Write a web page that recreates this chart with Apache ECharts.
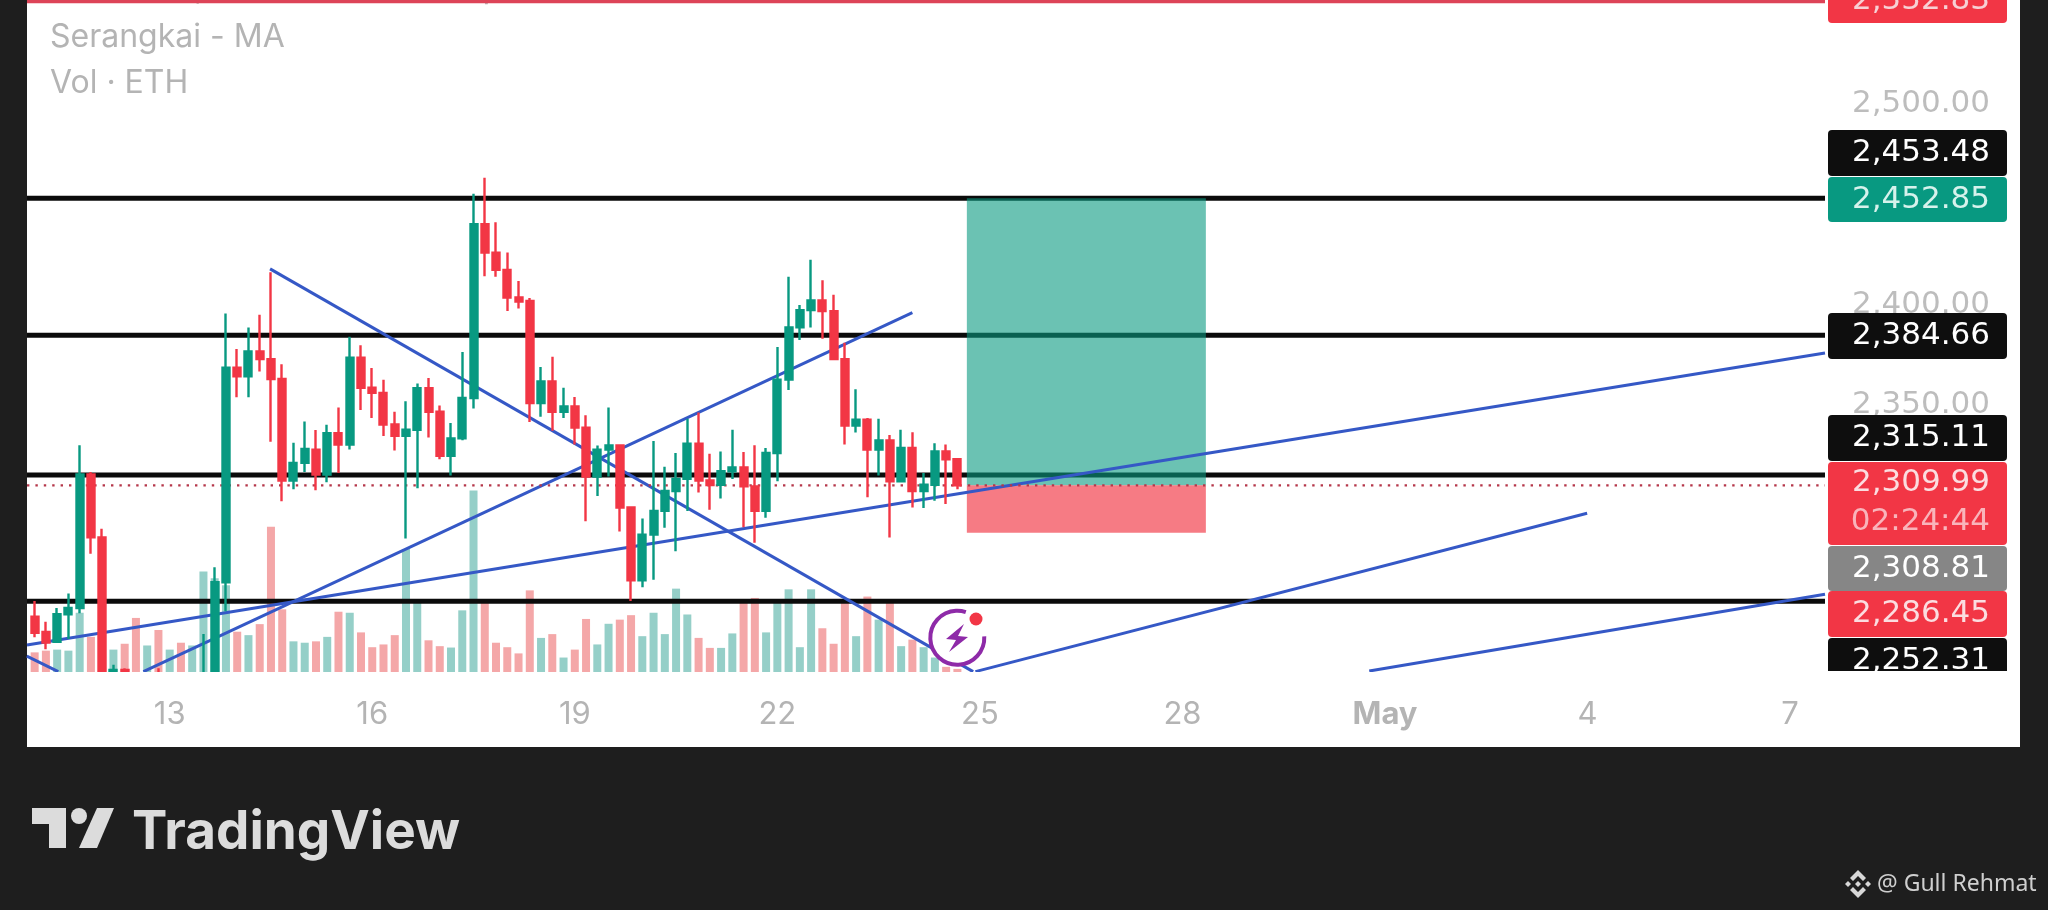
<!DOCTYPE html>
<html>
<head>
<meta charset="utf-8">
<style>html,body{margin:0;padding:0;background:#1e1e1e}#c{width:2048px;height:910px}</style>
<script src="https://cdn.jsdelivr.net/npm/echarts@6/dist/echarts.min.js"></script>
</head>
<body>
<div id="c"></div>
<script>
// ---- values ----
const opens  = [2244.7,2237.0,2232.2,2245.9,2249.0,2315.4,2284.1,2213,2218.1,2214,2210,2214,2210,2213,2211,2211,2213,2261.8,2368.6,2364.3,2376.6,2372.8,2362.9,2312.4,2321.2,2327.8,2315.4,2336.0,2330.3,2373.5,2358.6,2356.0,2340.3,2334.6,2337.7,2358.3,2346.6,2324.7,2333.4,2353.5,2440.0,2425.8,2417.2,2403.5,2401.8,2350.9,2361.7,2346.6,2349.2,2338.7,2314.4,2327.8,2329.8,2299.0,2262.7,2285.5,2297.3,2307.2,2313.2,2330.7,2312.4,2310.3,2317.0,2318.9,2309.5,2297.3,2326.1,2362.6,2388.6,2397.2,2402.0,2396.7,2372.8,2339.8,2342.7,2327.8,2332.4,2312.0,2328.6,2307.2,2310.3,2326.9,2323.0];
const closes = [2236.6,2231.8,2245.9,2249.0,2315.4,2284.1,2211,2218.1,2213,2210,2213,2210,2213,2211,2214,2216,2261.8,2368.6,2364.3,2376.6,2372.8,2362.9,2312.4,2321.2,2328.1,2315.4,2336.0,2330.3,2373.5,2358.6,2356.0,2340.3,2334.6,2337.7,2358.3,2346.6,2324.7,2333.4,2353.5,2440.0,2425.8,2417.2,2403.5,2401.4,2350.9,2361.7,2346.6,2349.2,2338.7,2314.4,2327.8,2329.8,2299.0,2262.7,2285.5,2297.3,2307.2,2313.2,2330.7,2312.4,2310.1,2317.0,2318.9,2309.5,2297.3,2326.1,2362.6,2388.6,2397.2,2402.0,2396.7,2372.8,2339.8,2342.7,2327.8,2332.4,2312.0,2328.6,2307.2,2310.3,2326.9,2323.0,2310.0];
const lows   = [2234.4,2228.4,2231.8,2233.5,2246.4,2276.0,2209,2210,2210,2208,2208,2208,2208,2208,2208,2208,2209,2247.3,2353.8,2353.8,2366.7,2331.7,2302.1,2308.1,2316.6,2307.6,2311.5,2316.1,2327.8,2347.5,2343.5,2334.6,2327.4,2283.6,2308.6,2333.8,2323.0,2314.9,2332.4,2348.3,2414.0,2413.8,2396.8,2398.0,2341.5,2344.1,2337.2,2343.5,2330.3,2292.2,2304.7,2314.4,2287.0,2252.4,2259.3,2263.0,2288.9,2277.2,2297.3,2306.4,2297.8,2303.4,2313.2,2289.2,2281.5,2293.9,2312.0,2357.4,2382.3,2388.6,2382.9,2372.8,2330.3,2336.3,2304.1,2314.9,2284.1,2312.0,2299.0,2298.7,2302.4,2300.7,2308.1];
const highs  = [2252.4,2242.1,2249.0,2256.2,2330.0,2316.6,2288.4,2220.7,2219.0,2215,2214,2219.0,2215,2214,2215,2236.1,2269.2,2395.5,2377.8,2388.6,2394.9,2416.0,2370.3,2331.2,2341.8,2337.5,2340.1,2348.7,2384.0,2379.7,2368.4,2362.6,2346.6,2351.8,2360.7,2363.4,2349.7,2341.0,2376.3,2455.1,2463.1,2440.9,2425.9,2411.7,2403.2,2368.9,2374.0,2358.6,2354.0,2344.9,2329.8,2348.7,2329.8,2299.5,2293.5,2332.1,2319.2,2326.1,2343.2,2346.3,2325.7,2326.9,2337.7,2326.6,2330.0,2328.6,2378.8,2413.8,2399.7,2422.3,2412.1,2404.9,2380.9,2357.8,2343.5,2343.2,2335.0,2337.7,2336.4,2316.1,2330.9,2330.3,2323.2];
const volumes = [57,62,65,62,172,102,112,65,82,157,77,122,65,85,77,292,272,252,117,107,139,422,182,89,85,89,102,175,172,115,72,80,107,357,202,92,75,71,179,527,202,85,72,54,237,99,110,42,65,154,80,140,152,165,104,172,110,242,167,99,70,70,112,212,215,115,212,240,72,240,127,82,212,104,219,152,202,75,94,72,42,15,9];

const priceTicks = [2500, 2400, 2350];
const timeTickIndex = [12, 30, 48, 66, 84, 102, 120, 138, 156];
const timeTickLabels = ['13', '16', '19', '22', '25', '28', 'May', '4', '7'];

const levels = [2452.85, 2384.66, 2315.11, 2252.31];
const lastPrice = 2309.99;
const topPrice = 2550.8;

const trendLines = [
  [[20.92, 2417.7], [83.4, 2217.3]],
  [[9.66, 2217.3], [78.0, 2396.0]],
  [[-0.68, 2230.6], [159.1, 2375.9]],
  [[83.6, 2217.3], [137.96, 2296.1]],
  [[118.6, 2217.6], [159.1, 2255.8]],
  [[-0.7, 2225.0], [2.1, 2217.3]]
];
const position = {x0: 82.84, x1: 104.08, target: 2452.85, entry: 2309.99, stop: 2286.45};

const priceTags = [
  {text: '2,552.83', fill: '#f23645', top: -22, h: 45, color: '#f7d0d4'},
  {text: '2,453.48', fill: '#0e0e0e', top: 130, h: 46, color: '#ffffff'},
  {text: '2,452.85', fill: '#089981', top: 177, h: 45, color: '#d6f2ec'},
  {text: '2,384.66', fill: '#0e0e0e', top: 313, h: 46, color: '#ffffff'},
  {text: '2,315.11', fill: '#0e0e0e', top: 415, h: 46, color: '#ffffff'},
  {text: '2,309.99', text2: '02:24:44', fill: '#f23645', top: 462, h: 83, color: '#fbdde0', color2: '#f9b4bb'},
  {text: '2,308.81', fill: '#868686', top: 546, h: 45, color: '#ffffff'},
  {text: '2,286.45', fill: '#f23645', top: 591, h: 46, color: '#fbdde0'},
  {text: '2,252.31', fill: '#0e0e0e', top: 638, h: 46, color: '#ffffff'}
];

// ---- layout ----
const FONT = 'Inter, Roboto, sans-serif';
const PRICEFONT = '"DejaVu Sans", sans-serif';
const GREEN = '#089981', RED = '#f23645';
const xMin = -0.68, xMax = 159.1;
const up = i => closes[i] >= opens[i];
const hLine = (y) => [[xMin, y], [xMax, y]];

const series = [];
series.push({
  type: 'bar', xAxisIndex: 0, yAxisIndex: 1, barWidth: 8, z: 1, silent: true, animation: false,
  data: volumes.map((v, i) => ({
    value: [i, v],
    itemStyle: {color: up(i) ? '#95cfc8' : '#f4a7a8'}
  }))
});
levels.forEach(l => series.push({
  type: 'line', z: 2, symbol: 'none', silent: true, animation: false,
  data: hLine(l), lineStyle: {color: '#0b0b0b', width: 5}
}));
series.push({
  type: 'custom', z: 3, silent: true, animation: false, clip: true,
  encode: {x: [0, 1], y: [2, 3]},
  data: [
    [position.x0, position.x1, position.target, position.entry, 'rgba(8,153,129,0.6)'],
    [position.x0, position.x1, position.entry, position.stop, 'rgba(242,54,69,0.66)']
  ],
  renderItem(p, api) {
    const a = api.coord([api.value(0), api.value(2)]);
    const b = api.coord([api.value(1), api.value(3)]);
    return {type: 'rect', shape: {x: a[0], y: a[1], width: b[0] - a[0], height: b[1] - a[1]},
      style: {fill: api.value(4)}};
  }
});
trendLines.forEach(t => series.push({
  type: 'line', z: 4, symbol: 'none', silent: true, animation: false,
  data: t, lineStyle: {color: '#3558c6', width: 3}
}));
series.push({
  type: 'line', z: 4, symbol: 'none', silent: true, animation: false,
  data: hLine(lastPrice), lineStyle: {color: '#b5374a', width: 2.4, type: [2.4, 6]}
});
series.push({
  type: 'line', z: 4, symbol: 'none', silent: true, animation: false,
  data: hLine(topPrice), lineStyle: {color: '#dd4458', width: 3.5}
});
series.push({
  type: 'candlestick', z: 5, silent: true, animation: false, barWidth: 7.5, clip: true,
  encode: {x: 0, y: [1, 2, 3, 4]},
  data: opens.map((o, i) => [i, o, closes[i], lows[i], highs[i]]),
  itemStyle: {color: GREEN, color0: RED, borderColor: GREEN, borderColor0: RED, borderWidth: 2.4}
});

const gfx = [];
// panel
gfx.push({type: 'rect', z: -10, shape: {x: 27, y: 0, width: 1993, height: 747}, style: {fill: '#ffffff'}});
// covers the price pane's lower edge, below which the candles are cut off
gfx.push({type: 'rect', z: 8, shape: {x: 27, y: 672, width: 1798, height: 24}, style: {fill: '#ffffff'}});
// clipped title + legend text
gfx.push({type: 'text', z: 1, x: 50, y: -28, style: {text: 'Ethereum, Futures USDT Perpetual Contract · 4h · Binance', font: '32px ' + FONT, fill: '#b4b4b4'}});
gfx.push({type: 'text', z: 1, x: 50, y: 21, style: {text: 'Serangkai - MA', font: '32px ' + FONT, fill: '#b4b4b4'}});
gfx.push({type: 'text', z: 1, x: 50, y: 67, style: {text: 'Vol · ETH', font: '32px ' + FONT, fill: '#b4b4b4'}});
// price tags
const TAGFONT = '31px ' + PRICEFONT;
priceTags.forEach(t => {
  gfx.push({type: 'rect', z: 50, shape: {x: 1828, y: t.top, width: 179, height: t.h, r: 4}, style: {fill: t.fill}});
  const cy = t.text2 ? t.top + 21 : t.top + t.h / 2;
  gfx.push({type: 'text', z: 51, x: 1990, y: cy, style: {text: t.text, font: TAGFONT, fill: t.color, align: 'right', verticalAlign: 'middle'}});
  if (t.text2) gfx.push({type: 'text', z: 51, x: 1990, y: t.top + 60, style: {text: t.text2, font: TAGFONT, fill: t.color2, align: 'right', verticalAlign: 'middle'}});
});
// covers the bottom of the clipped last tag
gfx.push({type: 'rect', z: 52, shape: {x: 1826, y: 671, width: 184, height: 24}, style: {fill: '#ffffff'}});
// alert icon
const ix = 957.3, iy = 637.7;
gfx.push({type: 'circle', z: 60, shape: {cx: ix, cy: iy, r: 27}, style: {fill: '#ffffff', stroke: null}});
gfx.push({type: 'arc', z: 61, shape: {cx: ix, cy: iy, r: 27, startAngle: -0.05, endAngle: -1.25, clockwise: true}, style: {stroke: '#8e2aa8', lineWidth: 4, fill: null}});
gfx.push({type: 'polygon', z: 61, shape: {points: [[964,624],[946,639],[956,640],[949,652],[968,637],[958,636]]}, style: {fill: '#8e2aa8'}});
gfx.push({type: 'circle', z: 62, shape: {cx: 976, cy: 619, r: 6.5}, style: {fill: RED}});
// TradingView logo
const logo = '#dcdcdc';
gfx.push({type: 'polygon', z: 5, shape: {points: [[32,808],[66,808],[66,848],[49,848],[49,824],[32,824]]}, style: {fill: logo}});
gfx.push({type: 'circle', z: 5, shape: {cx: 79, cy: 816, r: 8}, style: {fill: logo}});
gfx.push({type: 'polygon', z: 5, shape: {points: [[97,808],[114,808],[97,848],[79,848]]}, style: {fill: logo}});
gfx.push({type: 'text', z: 5, x: 132, y: 861, style: {text: 'TradingView', font: '700 53px ' + FONT, fill: logo, verticalAlign: 'bottom', lineHeight: 55}});
// watermark
const bx = 1858, by = 884, bc = '#d8d8d8';
gfx.push({type: 'polygon', z: 5, shape: {points: [[bx,by-14],[bx+8,by-6],[bx+5,by-3],[bx,by-8],[bx-5,by-3],[bx-8,by-6]]}, style: {fill: bc}});
gfx.push({type: 'polygon', z: 5, shape: {points: [[bx,by+14],[bx+8,by+6],[bx+5,by+3],[bx,by+8],[bx-5,by+3],[bx-8,by+6]]}, style: {fill: bc}});
gfx.push({type: 'polygon', z: 5, shape: {points: [[bx,by-3],[bx+3,by],[bx,by+3],[bx-3,by]]}, style: {fill: bc}});
gfx.push({type: 'polygon', z: 5, shape: {points: [[bx-10,by-3],[bx-7,by],[bx-10,by+3],[bx-13,by]]}, style: {fill: bc}});
gfx.push({type: 'polygon', z: 5, shape: {points: [[bx+10,by-3],[bx+13,by],[bx+10,by+3],[bx+7,by]]}, style: {fill: bc}});
gfx.push({type: 'text', z: 5, x: 1877, y: 884, style: {text: '@ Gull Rehmat', font: '23px "Noto Sans", sans-serif', fill: '#cfcfcf', verticalAlign: 'middle'}});

const chart = echarts.init(document.getElementById('c'), null, {renderer: 'canvas'});
chart.setOption({
  animation: false,
  backgroundColor: '#1e1e1e',
  tooltip: {show: false},
  grid: {left: 27, top: 0, width: 1798, height: 672, containLabel: false},
  xAxis: {
    type: 'value', min: xMin, max: xMax, splitLine: {show: false},
    axisLine: {show: false}, axisTick: {show: false},
    axisLabel: {
      customValues: timeTickIndex, margin: 27, fontSize: 31, color: '#b4b4b4', fontFamily: FONT, hideOverlap: false,
      formatter: v => {
        const s = timeTickLabels[timeTickIndex.indexOf(v)];
        return s === 'May' ? '{b|May}' : s;
      },
      rich: {b: {fontSize: 31, fontWeight: 700, color: '#b4b4b4', fontFamily: FONT}}
    }
  },
  yAxis: [{
    type: 'value', position: 'right', min: 2217.13, max: 2551.5, splitLine: {show: false},
    axisLine: {show: false}, axisTick: {show: false},
    axisLabel: {
      customValues: priceTicks, margin: 165, align: 'right', fontSize: 31, color: '#bdbdbd', fontFamily: PRICEFONT,
      formatter: v => v.toLocaleString('en-US', {minimumFractionDigits: 2})
    }
  }, {
    type: 'value', min: 0, max: 1951, show: false, splitLine: {show: false}
  }],
  series,
  graphic: {elements: gfx}
});
</script>
</body>
</html>
